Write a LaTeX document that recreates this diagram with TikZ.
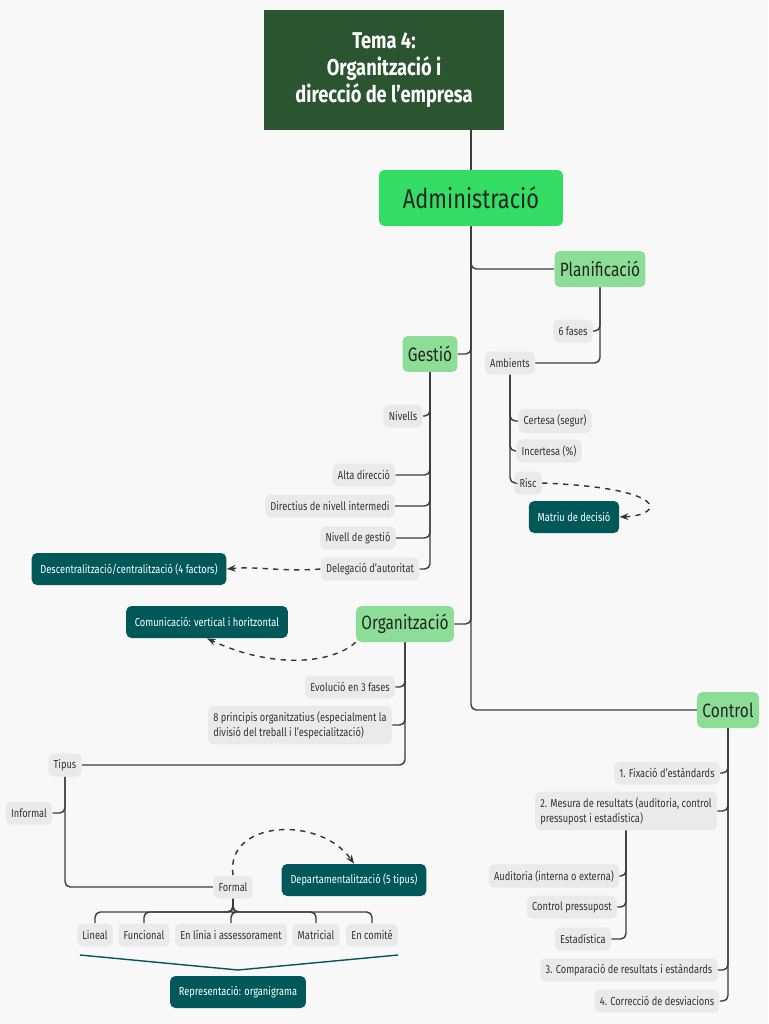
\documentclass[tikz,border=0pt]{standalone}
\usepackage{fontspec}
\setmainfont{Fira Sans}[FakeStretch=0.8]
\usetikzlibrary{arrows.meta}
\definecolor{titlecolor}{RGB}{43,85,48}
\definecolor{admincolor}{RGB}{52,222,100}
\definecolor{maincolor}{RGB}{140,222,150}
\definecolor{leafcolor}{RGB}{234,234,234}
\definecolor{notecolor}{RGB}{0,88,88}
\definecolor{linecolor}{RGB}{60,60,60}
\definecolor{bgcolor}{RGB}{248,248,248}
\begin{document}
\begin{tikzpicture}[
    x=0.02cm, y=-0.02cm,
    title/.style={rectangle, fill=titlecolor, text=white, align=center, font=\fontsize{13}{15.5}\selectfont\bfseries, minimum width=4.8cm, minimum height=2.4cm},
    admin/.style={rectangle, rounded corners=3pt, fill=admincolor, text=black!85, font=\fontsize{15.5}{18}\selectfont, minimum width=3.68cm, minimum height=1.12cm},
    main/.style={rectangle, rounded corners=3pt, fill=maincolor, text=black!85, font=\fontsize{11}{12}\selectfont, minimum height=0.72cm, inner xsep=3pt},
    leaf/.style={rectangle, rounded corners=3pt, fill=leafcolor, text=black!80, font=\fontsize{6.6}{8.4}\selectfont, minimum height=0.46cm, inner xsep=3pt, align=left},
    note/.style={rectangle, rounded corners=3pt, fill=notecolor, text=white, font=\fontsize{6.6}{8.4}\selectfont, minimum height=0.64cm, inner xsep=5pt},
    link/.style={draw=linecolor, line width=0.8pt, rounded corners=3pt},
    jump/.style={draw=black!80, line width=0.8pt, dashed, -{Stealth[length=5pt]}}
]
% background
\fill[bgcolor] (0,0) rectangle (768,1024);

% main nodes
\node[title] (T) at (384,70) {Tema 4:\\Organització i\\direcció de l'empresa};
\node[admin] (A) at (471,198) {Administració};
\node[main] (P) at (600,269) {Planificació};
\node[main] (G) at (430,354) {Gestió};
\node[main] (O) at (405,624) {Organització};
\node[main] (C) at (728,710) {Control};

% planificacio
\node[leaf] (P1) at (573,331) {6 fases};
\node[leaf] (P2) at (510,363) {Ambients};
\node[leaf] (P3) at (555,421) {Certesa (segur)};
\node[leaf] (P4) at (549,451) {Incertesa (\%)};
\node[leaf] (P5) at (528,483) {Risc};
\node[note] (PM) at (574,517) {Matriu de decisió};

% gestio
\node[leaf] (G1) at (403,416) {Nivells};
\node[leaf] (G2) at (364,475) {Alta direcció};
\node[leaf] (G3) at (330,506) {Directius de nivell intermedi};
\node[leaf] (G4) at (358,538) {Nivell de gestió};
\node[leaf] (G5) at (370,569) {Delegació d'autoritat};
\node[note] (GD) at (129,569) {Descentralització/centralització (4 factors)};

% organitzacio
\node[note] (OC) at (207,622) {Comunicació: vertical i horitzontal};
\node[leaf] (O1) at (350,687) {Evolució en 3 fases};
\node[leaf] (O2) at (300,725) {8 principis organitzatius (especialment la\\divisió del treball i l'especialització)};
\node[leaf] (O3) at (65,765) {Tipus};
\node[leaf] (O4) at (29,813) {Informal};
\node[leaf] (O5) at (233,887) {Formal};
\node[note] (OD) at (354,880) {Departamentalització (5 tipus)};
\node[leaf] (F1) at (95,935) {Lineal};
\node[leaf] (F2) at (144,935) {Funcional};
\node[leaf] (F3) at (231,935) {En línia i assessorament};
\node[leaf] (F4) at (316,935) {Matricial};
\node[leaf] (F5) at (372,935) {En comité};
\node[note] (OR) at (238,992) {Representació: organigrama};

% control
\node[leaf] (C1) at (667,773) {1. Fixació d'estàndards};
\node[leaf] (C2) at (626,811) {2. Mesura de resultats (auditoria, control\\pressupost i estadística)};
\node[leaf] (C3) at (554,876) {Auditoria (interna o externa)};
\node[leaf] (C4) at (572,907) {Control pressupost};
\node[leaf] (C5) at (583,939) {Estadística};
\node[leaf] (C6) at (629,970) {3. Comparació de resultats i estàndards};
\node[leaf] (C7) at (657,1001) {4. Correcció de desviacions};

% trunk
\draw[link] (T.south -| A.north) -- (A.north);
\draw[link] (A.south) |- (C.west);
\draw[link] (A.south) |- (P.west);
\draw[link] (A.south) |- (G.east);
\draw[link] (A.south) |- (O.east);

% planificacio links
\draw[link] (P.south) |- (P2.east);
\draw[link] (P.south) |- (P1.east);
\draw[link] (P2.south) |- (P3.west);
\draw[link] (P2.south) |- (P4.west);
\draw[link] (P2.south) |- (P5.west);
\draw[jump] (P5.east) .. controls (670,488) and (665,515) .. (PM.east);

% gestio links
\foreach \n in {G1,G2,G3,G4,G5}
  \draw[link] (G.south) |- (\n.east);
\draw[jump] (G5.west) .. controls (280,572) and (260,566) .. (GD.east);

% organitzacio links
\draw[jump] (O.south west) .. controls (330,665) and (270,668) .. (OC.south);
\foreach \n in {O1,O2,O3}
  \draw[link] (O.south) |- (\n.east);
\draw[link] (O3.south) |- (O4.east);
\draw[link] (O3.south) |- (O5.west);
\draw[jump] (O5.north) .. controls (225,820) and (320,815) .. (OD.north);
\coordinate (bus) at (233,912);
\foreach \n in {F1,F2,F3,F4,F5}
  \draw[link] (O5.south) -- (bus) -| (\n.north);
\coordinate (br1) at (80,955);
\coordinate (br2) at (238,970);
\coordinate (br3) at (398,955);
\draw[notecolor, line width=0.8pt] (br1) -- (br2) -- (br3);

% control links
\foreach \n in {C1,C2,C6,C7}
  \draw[link] (C.south) |- (\n.east);
\foreach \n in {C3,C4,C5}
  \draw[link] (C2.south) |- (\n.east);

\end{tikzpicture}
\end{document}
